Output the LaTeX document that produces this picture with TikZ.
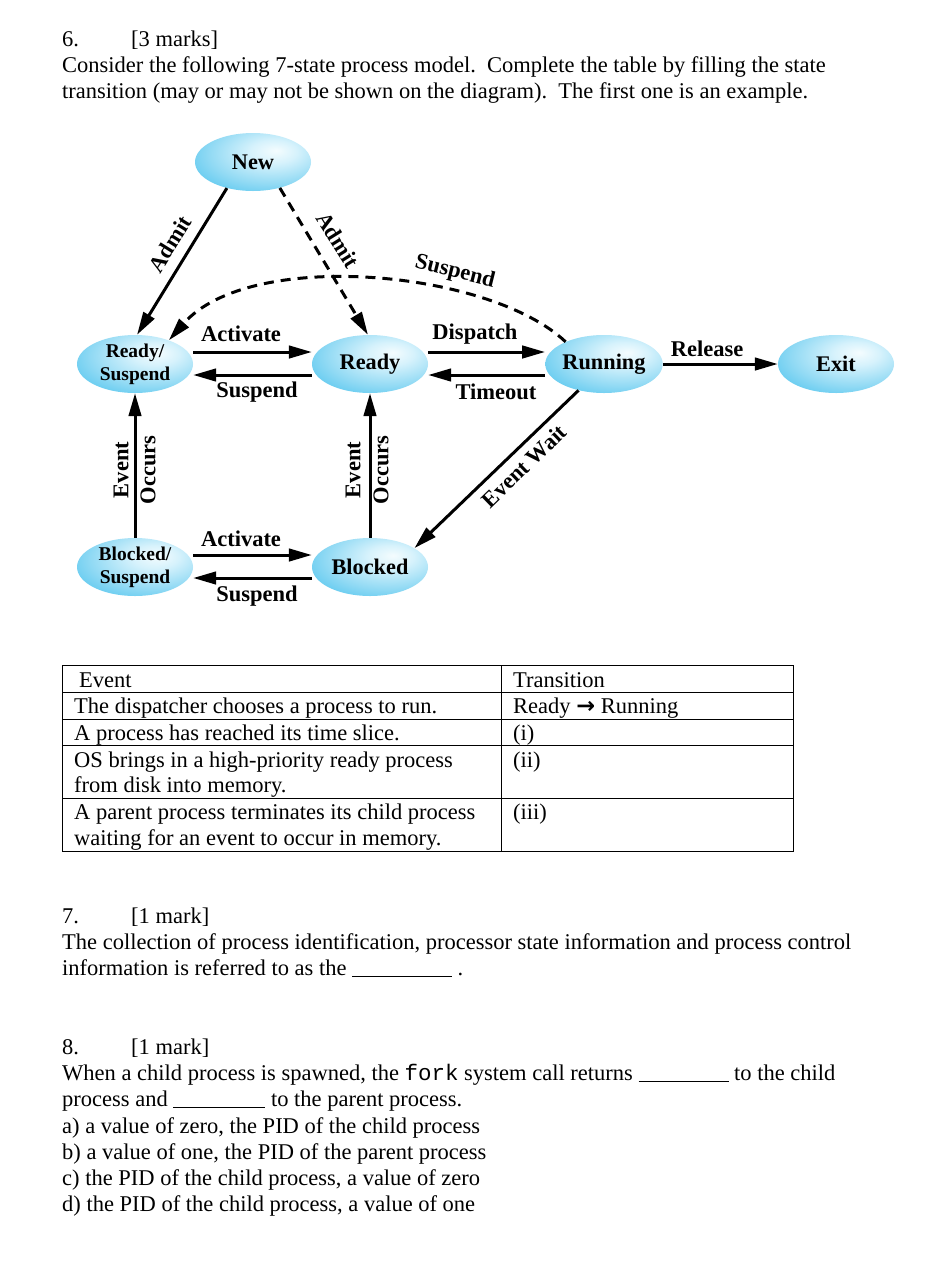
\documentclass[tikz,border=0pt]{standalone}
\usepackage{fontspec}
\setmainfont{Liberation Serif}
\setmonofont{Liberation Mono}
\newfontfamily\symfont{DejaVu Sans}
\usetikzlibrary{arrows.meta,shapes.geometric}
\definecolor{cyA}{HTML}{F4FCFE}
\definecolor{cyB}{HTML}{D6F2FC}
\definecolor{cyC}{HTML}{92DAF4}
\definecolor{cyD}{HTML}{4CC3EE}
\definecolor{cyE}{HTML}{1AB2E6}
\pgfdeclareradialshading{ovalshade}{\pgfpoint{10bp}{10bp}}{%
  color(0bp)=(cyA); color(10bp)=(cyB); color(26bp)=(cyC); color(41bp)=(cyD);
  color(56bp)=(cyE); color(90bp)=(cyE)}
\begin{document}
\begin{tikzpicture}[x=1pt,y=-1pt,
  state/.style={ellipse, minimum width=116pt, minimum height=58pt, inner sep=0pt,
    shade, shading=ovalshade, font=\fontsize{22.3}{24}\selectfont\bfseries, align=center},
  state2/.style={state, font=\fontsize{19.5}{23}\selectfont\bfseries},
  arr/.style={line width=3pt, -{Triangle[length=23pt,width=12.5pt]}},
  darr/.style={arr, dash pattern=on 10pt off 7pt},
  lbl/.style={font=\fontsize{22.5}{24}\selectfont\bfseries, inner sep=0pt},
  txt/.style={anchor=base west, inner sep=0pt, font=\fontsize{22.5}{26}\selectfont},
  grid/.style={line width=1pt},
]
\useasboundingbox (0,0) rectangle (938,1272);
\fill[white] (0,0) rectangle (938,1272);

% ---- heading
\node[txt] (q6n) at (62,46) {6.};
\node[txt] (q6m) at (131,46) {[3 marks]};
\node[txt] (q6a) at (62,72) {Consider the following 7-state process model.\ \ Complete the table by filling the state};
\node[txt] (q6b) at (62,98) {transition (may or may not be shown on the diagram).\ \ The first one is an example.};

% ---- states
\node[state] (new) at (253,162) {New};
\node[state2] (rs) at (135,364) {Ready/\\Suspend};
\node[state] (ready) at (370,364) {Ready};
\node[state] (run) at (604,364) {Running};
\node[state] (exit) at (836,364) {Exit};
\node[state2] (bs) at (135,567) {Blocked/\\Suspend};
\node[state] (blk) at (370,567) {Blocked};

% ---- connectors
\draw[arr] (new.225) -- (rs.86);
\draw[darr] (new.316) -- (ready.94);
\draw[darr] (run.150) .. controls (490,270) and (250,248) .. (rs.35);
\draw[arr] ([yshift=12pt]rs.east) -- ([yshift=12pt]ready.west);
\draw[arr] ([yshift=-11pt]ready.west) -- ([yshift=-11pt]rs.east);
\draw[arr] ([yshift=12pt]ready.east) -- ([yshift=12pt]run.west);
\draw[arr] ([yshift=-11pt]run.west) -- ([yshift=-11pt]ready.east);
\draw[arr] (run) -- (exit);
\draw[arr] (bs) -- (rs);
\draw[arr] (blk) -- (ready);
\draw[arr] (run.226) -- (blk.23);
\draw[arr] ([yshift=12pt]bs.east) -- ([yshift=12pt]blk.west);
\draw[arr] ([yshift=-11pt]blk.west) -- ([yshift=-11pt]bs.east);

% ---- labels
\node[lbl, rotate=58] (l1) at (170,244) {Admit};
\node[lbl, rotate=-58] (l2) at (338,240) {Admit};
\node[lbl, rotate=-14] (l3) at (455,272) {Suspend};
\node[lbl] (l4) at (241,334) {Activate};
\node[lbl] (l5) at (257,392) {Suspend};
\node[lbl] (l6) at (475,334) {Dispatch};
\node[lbl] (l7) at (496,392) {Timeout};
\node[lbl] (l8) at (707,349) {Release};
\node[lbl, rotate=90] (l9) at (121,470) {Event};
\node[lbl, rotate=90] (l10) at (148,470) {Occurs};
\node[lbl, rotate=90] (l11) at (353,470) {Event};
\node[lbl, rotate=90] (l12) at (381,470) {Occurs};
\node[lbl, rotate=44] (l13) at (524,466) {Event Wait};
\node[lbl] (l14) at (241,539) {Activate};
\node[lbl] (l15) at (257,596) {Suspend};

% ---- table
\draw[grid] (62,665) rectangle (793,851);
\foreach \yy in {692,719,745,798} \draw[grid] (62,\yy) -- (793,\yy);
\draw[grid] (501,665) -- (501,851);
\node[txt] (t1) at (79,687) {Event};
\node[txt] (t2) at (513,687) {Transition};
\node[txt] (t3) at (74,713) {The dispatcher chooses a process to run.};
\node[txt] (t4) at (513,713) {Ready {\symfont\bfseries →} Running};
\node[txt] (t5) at (74,740) {A process has reached its time slice.};
\node[txt] (t6) at (513,740) {(i)};
\node[txt] (t7) at (74,767) {OS brings in a high-priority ready process};
\node[txt] (t8) at (74,792) {from disk into memory.};
\node[txt] (t9) at (513,767) {(ii)};
\node[txt] (t10) at (74,819) {A parent process terminates its child process};
\node[txt] (t11) at (74,845) {waiting for an event to occur in memory.};
\node[txt] (t12) at (513,819) {(iii)};

% ---- question 7
\node[txt] (q7n) at (62,923) {7.};
\node[txt] (q7m) at (131,923) {[1 mark]};
\node[txt] (q7a) at (62,949) {The collection of process identification, processor state information and process control};
\node[txt] (q7b) at (62,975) {information is referred to as the \rule[-2pt]{100pt}{1pt} .};

% ---- question 8
\node[txt] (q8n) at (62,1054) {8.};
\node[txt] (q8m) at (131,1054) {[1 mark]};
\node[txt] (q8a) at (62,1080) {When a child process is spawned, the \texttt{fork} system call returns \rule[-2pt]{90pt}{1pt} to the child};
\node[txt] (q8b) at (62,1106) {process and \rule[-2pt]{92pt}{1pt} to the parent process.};
\node[txt] (q8c) at (62,1133) {a) a value of zero, the PID of the child process};
\node[txt] (q8d) at (62,1159) {b) a value of one, the PID of the parent process};
\node[txt] (q8e) at (62,1185) {c) the PID of the child process, a value of zero};
\node[txt] (q8f) at (62,1211) {d) the PID of the child process, a value of one};
\end{tikzpicture}
\end{document}
